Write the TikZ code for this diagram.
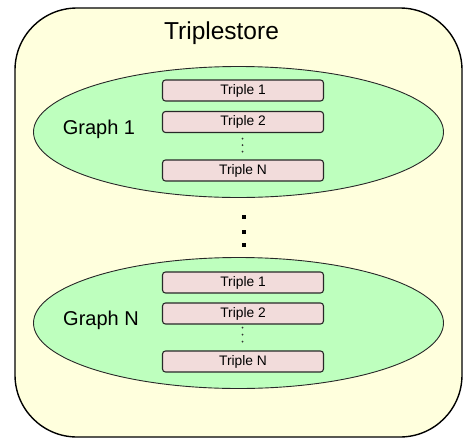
\documentclass[tikz,border=0pt]{standalone}
\usepackage{fontspec}
\setmainfont{Liberation Sans}
\usetikzlibrary{shapes.geometric}
\definecolor{storefill}{RGB}{255,255,221}
\definecolor{graphfill}{RGB}{190,255,190}
\definecolor{triplefill}{RGB}{242,220,219}
\definecolor{edge}{RGB}{40,40,40}
\tikzset{
  store/.style={draw=black, line width=1.4pt, fill=storefill, rounded corners=62pt},
  graphell/.style={ellipse, draw=edge, line width=0.9pt, fill=graphfill, minimum width=410pt, minimum height=131pt, inner sep=0pt},
  triplebox/.style={draw=edge, line width=1.1pt, fill=triplefill, rounded corners=3pt, minimum width=161pt, minimum height=21pt, inner sep=0pt, font=\fontsize{13.8}{16}\selectfont},
  glabel/.style={font=\fontsize{20}{24}\selectfont, inner sep=0pt},
  tlabel/.style={font=\fontsize{24.5}{28}\selectfont, inner sep=0pt},
  smalldot/.style={circle, fill=black!80, minimum size=2pt, inner sep=0pt},
  bigdot/.style={rectangle, fill=black, minimum size=4pt, inner sep=0pt}
}
\begin{document}
\begin{tikzpicture}[x=1pt,y=-1pt]
\useasboundingbox (0,0) rectangle (474,445);
\draw[store] (15,8) rectangle (462,437);
\node[tlabel] (title) at (221.5,33) {Triplestore};
% Graph 1
\node[graphell] (g1) at (238.5,132) {};
\node[glabel] (g1l) at (99,129) {Graph 1};
\node[triplebox] (g1t1) at (243,90.5) {Triple 1};
\node[triplebox] (g1t2) at (243,122) {Triple 2};
\node[smalldot] (g1d1) at (242.5,138.5) {};
\node[smalldot] (g1d2) at (242.5,145) {};
\node[smalldot] (g1d3) at (242.5,151.5) {};
\node[triplebox] (g1tn) at (243,170.5) {Triple N};
% big dots
\node[bigdot] (b1) at (243.5,217) {};
\node[bigdot] (b2) at (243.5,231.5) {};
\node[bigdot] (b3) at (243.5,245) {};
% Graph N
\node[graphell] (gn) at (238.5,323) {};
\node[glabel] (gnl) at (101,320) {Graph N};
\node[triplebox] (gnt1) at (243,282.5) {Triple 1};
\node[triplebox] (gnt2) at (243,313.5) {Triple 2};
\node[smalldot] (gnd1) at (242.5,327.5) {};
\node[smalldot] (gnd2) at (242.5,334.5) {};
\node[smalldot] (gnd3) at (242.5,341.5) {};
\node[triplebox] (gntn) at (243,361.5) {Triple N};
\end{tikzpicture}
\end{document}
